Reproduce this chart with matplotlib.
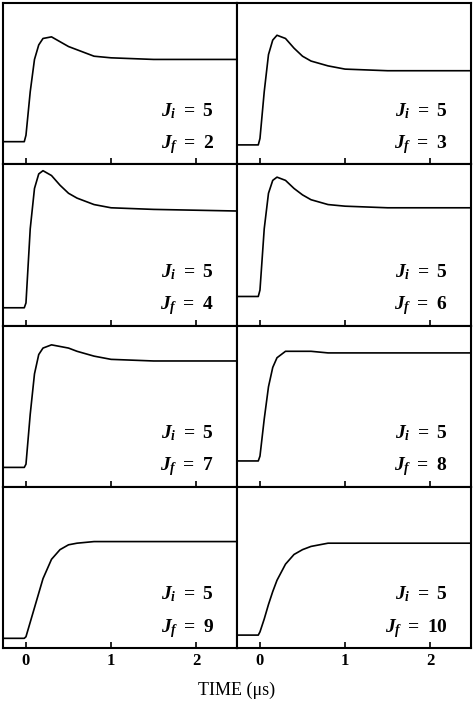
import matplotlib.pyplot as plt

plt.rcParams['font.family'] = ['Liberation Serif', 'DejaVu Serif']
plt.rcParams['mathtext.fontset'] = 'custom'
plt.rcParams['mathtext.it'] = 'Liberation Serif:italic:bold'
plt.rcParams['mathtext.rm'] = 'Liberation Serif:bold'

# fitted curves (normalised height in each panel)
t_pts = [-0.27, -0.02, 0.0, 0.05, 0.1, 0.15, 0.2, 0.3, 0.4, 0.5, 0.6, 0.8, 1.0, 1.5, 2.48]

jf_values = [2, 3, 4, 6, 7, 8, 9, 10]
curves = {
    2: [0.14, 0.14, 0.18, 0.45, 0.65, 0.74, 0.78, 0.79, 0.76, 0.73, 0.71, 0.67, 0.66, 0.65, 0.65],
    3: [0.12, 0.12, 0.16, 0.45, 0.68, 0.77, 0.80, 0.78, 0.72, 0.67, 0.64, 0.61, 0.59, 0.58, 0.58],
    4: [0.11, 0.11, 0.14, 0.60, 0.85, 0.94, 0.96, 0.93, 0.87, 0.82, 0.79, 0.75, 0.73, 0.72, 0.71],
    6: [0.18, 0.18, 0.22, 0.60, 0.82, 0.90, 0.92, 0.90, 0.85, 0.81, 0.78, 0.75, 0.74, 0.73, 0.73],
    7: [0.12, 0.12, 0.14, 0.45, 0.70, 0.82, 0.86, 0.88, 0.87, 0.86, 0.84, 0.81, 0.79, 0.78, 0.78],
    8: [0.16, 0.16, 0.19, 0.42, 0.62, 0.74, 0.80, 0.84, 0.84, 0.84, 0.84, 0.83, 0.83, 0.83, 0.83],
    9: [0.06, 0.06, 0.07, 0.16, 0.25, 0.34, 0.43, 0.55, 0.61, 0.64, 0.65, 0.66, 0.66, 0.66, 0.66],
    10: [0.08, 0.08, 0.10, 0.18, 0.27, 0.35, 0.42, 0.52, 0.58, 0.61, 0.63, 0.65, 0.65, 0.65, 0.65],
}

x_ticks = [0, 1, 2]

fig, axes = plt.subplots(4, 2, figsize=(4.74, 7.09), dpi=100, sharex=True)
fig.subplots_adjust(left=3 / 474, right=471 / 474, top=1 - 3 / 709,
                    bottom=1 - 648 / 709, wspace=0, hspace=0)

for ax, jf in zip(axes.flat, jf_values):
    ax.plot(t_pts, curves[jf], color='black', lw=1.2)
    ax.set_xlim(-0.27, 2.48)
    ax.set_ylim(0, 1)
    ax.set_yticks([])
    ax.set_xticks(x_ticks)
    ax.tick_params(axis='x', direction='in', length=4, width=1.2, labelsize=12)
    for lbl in ax.get_xticklabels():
        lbl.set_fontweight('bold')
    for s in ax.spines.values():
        s.set_linewidth(1.5)
    ax.text(0.9, 0.30, r'$J_i\ =\ 5$', transform=ax.transAxes, ha='right',
            fontsize=14)
    ax.text(0.9, 0.10, r'$J_f\ =\ %d$' % jf, transform=ax.transAxes, ha='right',
            fontsize=14)

fig.text(0.5, 0.02, 'TIME (μs)', ha='center', fontsize=13)
fig.savefig('out.png', dpi=100)
